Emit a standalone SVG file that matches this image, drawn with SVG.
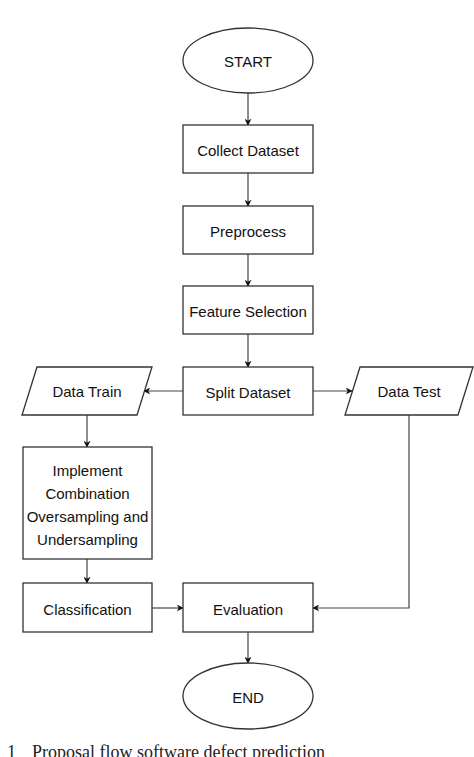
<svg xmlns="http://www.w3.org/2000/svg" width="474" height="757" viewBox="0 0 474 757">
<style>
.shape{fill:#fff;stroke:#333;stroke-width:1.3}
.lbl{font-family:"Liberation Sans",Arial,sans-serif;font-size:15px;fill:#111;text-anchor:middle;dominant-baseline:central}
.conn{fill:none;stroke:#444;stroke-width:1.2}
.cap{font-family:"Liberation Serif","Times New Roman",serif;font-size:18px;fill:#222}
</style>
<defs>
<marker id="arr" viewBox="0 0 10 10" refX="9" refY="5" markerWidth="7" markerHeight="7" markerUnits="userSpaceOnUse" orient="auto">
<path d="M0,0 L10,5 L0,10 L3,5 Z" fill="#111"/>
</marker>
</defs>
<rect width="474" height="757" fill="#fff"/>
<g id="connectors">
<line class="conn" x1="248" y1="93" x2="248" y2="125" marker-end="url(#arr)"/>
<line class="conn" x1="248" y1="173" x2="248" y2="206" marker-end="url(#arr)"/>
<line class="conn" x1="248" y1="254" x2="248" y2="286" marker-end="url(#arr)"/>
<line class="conn" x1="248" y1="334" x2="248" y2="367" marker-end="url(#arr)"/>
<line class="conn" x1="183" y1="391" x2="144" y2="391" marker-end="url(#arr)"/>
<line class="conn" x1="313" y1="391" x2="352" y2="391" marker-end="url(#arr)"/>
<line class="conn" x1="87" y1="415" x2="87" y2="447" marker-end="url(#arr)"/>
<line class="conn" x1="87" y1="559" x2="87" y2="583" marker-end="url(#arr)"/>
<line class="conn" x1="152" y1="608" x2="183" y2="608" marker-end="url(#arr)"/>
<polyline class="conn" points="409,415 409,608 313,608" marker-end="url(#arr)"/>
<line class="conn" x1="248" y1="632" x2="248" y2="663" marker-end="url(#arr)"/>
</g>
<g id="start"><ellipse class="shape" cx="248" cy="60.5" rx="65" ry="32.5"/><text class="lbl" x="248" y="61">START</text></g>
<g id="collect"><rect class="shape" x="183" y="125" width="130" height="48"/><text class="lbl" x="248" y="150">Collect Dataset</text></g>
<g id="preprocess"><rect class="shape" x="183" y="206" width="130" height="48"/><text class="lbl" x="248" y="231">Preprocess</text></g>
<g id="feature"><rect class="shape" x="183" y="286" width="130" height="48"/><text class="lbl" x="248" y="311">Feature Selection</text></g>
<g id="split"><rect class="shape" x="183" y="367" width="130" height="48"/><text class="lbl" x="248" y="392">Split Dataset</text></g>
<g id="train"><polygon class="shape" points="37,367 152,367 137,415 22,415"/><text class="lbl" x="87" y="391">Data Train</text></g>
<g id="test"><polygon class="shape" points="360,367 473,367 458,415 345,415"/><text class="lbl" x="409" y="391">Data Test</text></g>
<g id="implement"><rect class="shape" x="23" y="447" width="129" height="112"/>
<text class="lbl" x="87.5" y="470">Implement</text>
<text class="lbl" x="87.5" y="493">Combination</text>
<text class="lbl" x="87.5" y="516.5">Oversampling and</text>
<text class="lbl" x="87.5" y="539.5">Undersampling</text></g>
<g id="classification"><rect class="shape" x="23" y="583" width="129" height="49"/><text class="lbl" x="87.5" y="609">Classification</text></g>
<g id="evaluation"><rect class="shape" x="183" y="583" width="130" height="49"/><text class="lbl" x="248" y="609">Evaluation</text></g>
<g id="end"><ellipse class="shape" cx="248" cy="696" rx="65" ry="33"/><text class="lbl" x="248" y="697">END</text></g>
<text class="cap" x="7" y="758">1</text>
<text class="cap" x="32" y="758">Proposal flow software defect prediction</text>
</svg>
